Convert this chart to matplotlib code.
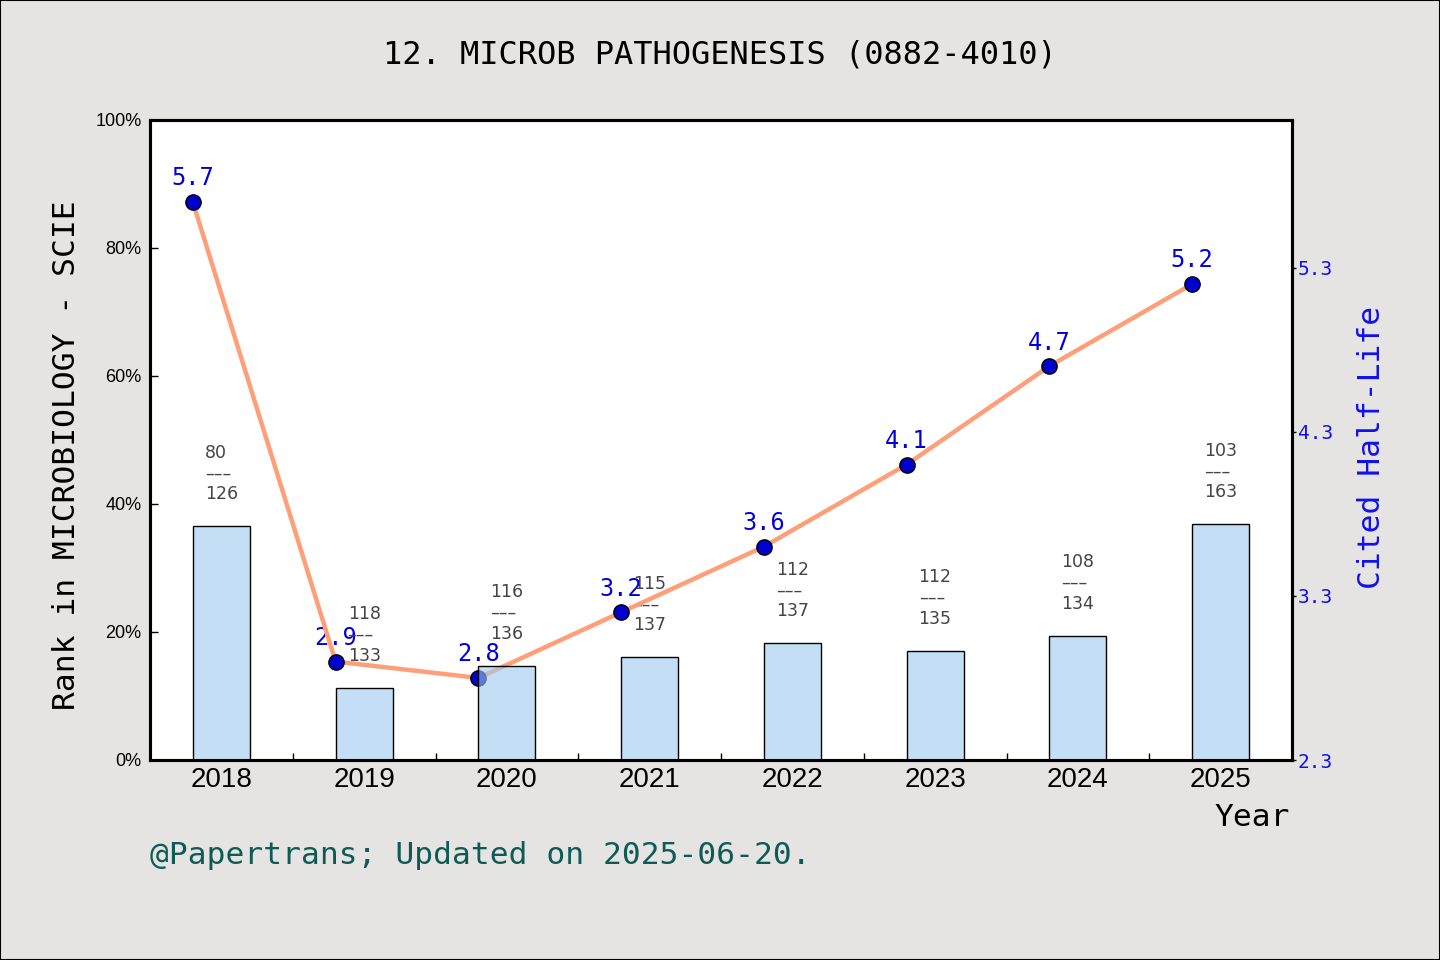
import matplotlib
matplotlib.use("Agg")
import matplotlib.pyplot as plt
from matplotlib.patches import Rectangle
from matplotlib.ticker import FixedLocator, PercentFormatter

# data
years = ["2018", "2019", "2020", "2021", "2022", "2023", "2024", "2025"]
rank = [80, 118, 116, 115, 112, 112, 108, 103]
total = [126, 133, 136, 137, 137, 135, 134, 163]
half_life = [5.7, 2.9, 2.8, 3.2, 3.6, 4.1, 4.7, 5.2]
right_ticks = [2.3, 3.3, 4.3, 5.3]

title = "12. MICROB PATHOGENESIS (0882-4010)"
footer = "@Papertrans; Updated on 2025-06-20."

mono = "DejaVu Sans Mono"
bg = "#e5e4e2"

fig = plt.figure(figsize=(14.4, 9.6), dpi=100, facecolor=bg)
fig.patches.append(Rectangle((0, 0), 1, 1, transform=fig.transFigure,
                             fill=False, edgecolor="black", lw=1.5))

ax = fig.add_axes([150 / 1440, 1 - 760 / 960, 1142 / 1440, 640 / 960])
ax2 = ax.twinx()
# bars sit over the line (as in the reference), so raise the left axes
ax.set_zorder(ax2.get_zorder() + 1)
ax.patch.set_visible(False)
ax2.patch.set_visible(True)
ax2.patch.set_facecolor("white")

xs = list(range(len(years)))
share = [1 - r / t for r, t in zip(rank, total)]

ax.bar(xs, share, width=0.4, color="#9ecbef", alpha=0.6, linewidth=0)
ax.bar(xs, share, width=0.4, fill=False, edgecolor="black", linewidth=1)

ax.set_xlim(-0.5, 7.5)
ax.set_ylim(0, 1)
ax.yaxis.set_major_locator(FixedLocator([0, 0.2, 0.4, 0.6, 0.8, 1.0]))
ax.yaxis.set_major_formatter(PercentFormatter(1.0, decimals=0))
ax.set_xticks(xs)
ax.set_xticklabels(years)
ax.set_xticks([x + 0.5 for x in xs[:-1]], minor=True)
ax.tick_params(axis="x", which="major", length=0, pad=5,
               labelsize=20, labelfontfamily="Liberation Sans")
ax.tick_params(axis="x", which="minor", direction="in", length=5, width=1)
ax.tick_params(axis="y", direction="in", length=6, width=1, pad=6,
               labelsize=13, labelfontfamily="Liberation Sans")
for s in ax.spines.values():
    s.set_linewidth(2.2)

# half-life line on the right axis, points at the left edge of each bar
lx = [x - 0.2 for x in xs]
ax2.plot(lx, half_life, color="#ff9f7a", lw=3.2, zorder=2,
         marker="o", markersize=11, markerfacecolor="#0000cc",
         markeredgecolor="black", markeredgewidth=1)
ax2.set_ylim(2.3, 6.2)
ax2.set_yticks(right_ticks)
ax2.set_yticklabels(["%.1f" % v for v in right_ticks])
ax2.tick_params(axis="y", direction="out", length=3, width=1, pad=1,
                labelsize=14, labelcolor="#1010ee", labelfontfamily=mono)
for s in ax2.spines.values():
    s.set_linewidth(2.2)

for x, v in zip(lx, half_life):
    ax2.annotate("%.1f" % v, (x, v), xytext=(0, 17), textcoords="offset points",
                 ha="center", va="center", fontsize=17, family=mono,
                 color="#0000dd", zorder=1)

for x, h, r, t in zip(xs, share, rank, total):
    ax2.annotate("%d\n\u2013\u2013\u2013\n%d" % (r, t), (x, h),
                 xycoords=ax.transData,
                 xytext=(0, 38), textcoords="offset points",
                 ha="center", va="center", multialignment="left",
                 fontsize=12.5, color="#444444", linespacing=1.2, zorder=1.5)

fig.text(720 / 1440, 1 - 55 / 960, title, ha="center", va="center",
         fontsize=23, family=mono, color="black")
fig.text(67 / 1440, 1 - 455 / 960, "Rank in MICROBIOLOGY - SCIE", rotation=90,
         ha="center", va="center", fontsize=22.5, family=mono, color="black")
fig.text(1372 / 1440, 1 - 447 / 960, "Cited Half-Life", rotation=90,
         ha="center", va="center", fontsize=22.5, family=mono, color="#1010ee")
fig.text(1290 / 1440, 1 - 817 / 960, "Year", ha="right", va="center",
         fontsize=22.5, family=mono, color="black")
fig.text(150 / 1440, 1 - 855 / 960, footer, ha="left", va="center",
         fontsize=22.5, family=mono, color="#0e5b56")

fig.savefig("out.png", dpi=100, facecolor=bg)
